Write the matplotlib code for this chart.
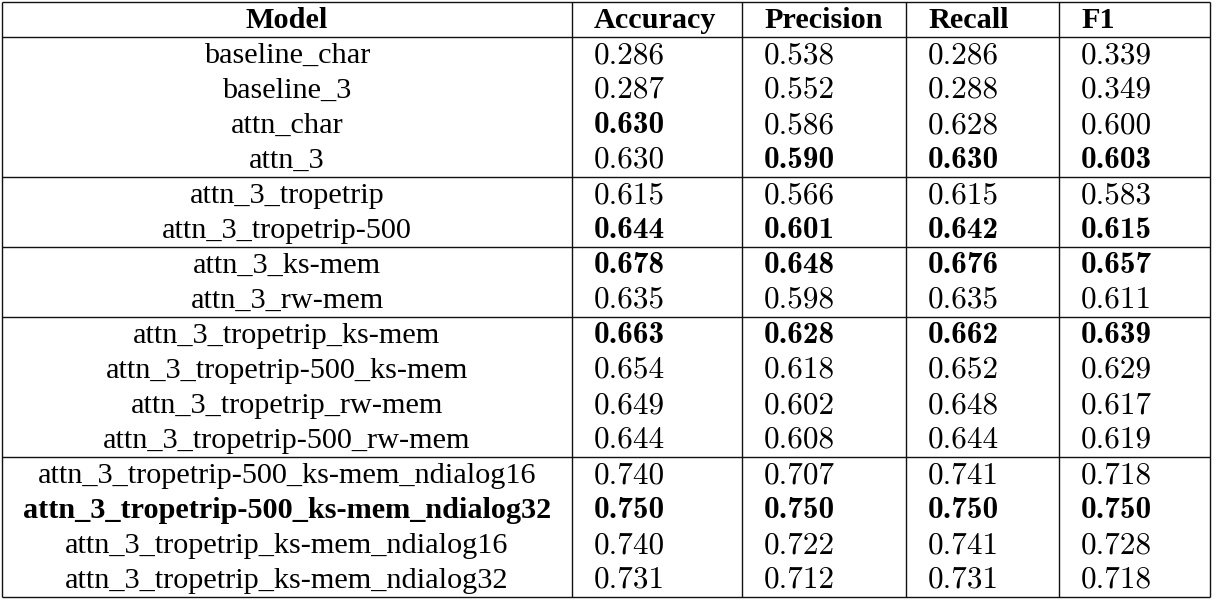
import os
import matplotlib
matplotlib.use("Agg")
import matplotlib.pyplot as plt
from matplotlib.font_manager import FontProperties

plt.rcParams['font.family'] = ['Liberation Serif', 'DejaVu Serif']

headers = ["Model", "Accuracy", "Precision", "Recall", "F1"]
models = [
    "baseline_char", "baseline_3", "attn_char", "attn_3",
    "attn_3_tropetrip", "attn_3_tropetrip-500",
    "attn_3_ks-mem", "attn_3_rw-mem",
    "attn_3_tropetrip_ks-mem", "attn_3_tropetrip-500_ks-mem",
    "attn_3_tropetrip_rw-mem", "attn_3_tropetrip-500_rw-mem",
    "attn_3_tropetrip-500_ks-mem_ndialog16", "attn_3_tropetrip-500_ks-mem_ndialog32",
    "attn_3_tropetrip_ks-mem_ndialog16", "attn_3_tropetrip_ks-mem_ndialog32",
]
accuracy = ["0.286", "0.287", "0.630", "0.630", "0.615", "0.644", "0.678", "0.635",
            "0.663", "0.654", "0.649", "0.644", "0.740", "0.750", "0.740", "0.731"]
precision = ["0.538", "0.552", "0.586", "0.590", "0.566", "0.601", "0.648", "0.598",
             "0.628", "0.618", "0.602", "0.608", "0.707", "0.750", "0.722", "0.712"]
recall = ["0.286", "0.288", "0.628", "0.630", "0.615", "0.642", "0.676", "0.635",
          "0.662", "0.652", "0.648", "0.644", "0.741", "0.750", "0.741", "0.731"]
f1 = ["0.339", "0.349", "0.600", "0.603", "0.583", "0.615", "0.657", "0.611",
      "0.639", "0.629", "0.617", "0.619", "0.718", "0.750", "0.728", "0.718"]
# bold flags: [model, accuracy, precision, recall, f1]
bold = [
    [0, 0, 0, 0, 0], [0, 0, 0, 0, 0], [0, 1, 0, 0, 0], [0, 0, 1, 1, 1],
    [0, 0, 0, 0, 0], [0, 1, 1, 1, 1],
    [0, 1, 1, 1, 1], [0, 0, 0, 0, 0],
    [0, 1, 1, 1, 1], [0, 0, 0, 0, 0], [0, 0, 0, 0, 0], [0, 0, 0, 0, 0],
    [0, 0, 0, 0, 0], [1, 1, 1, 1, 1], [0, 0, 0, 0, 0], [0, 0, 0, 0, 0],
]
group_ends = [3, 5, 7, 11]  # rule after these row indices

ttf_dir = os.path.join(matplotlib.get_data_path(), 'fonts', 'ttf')
fs_text = 21.8
fs_num = 22.5
fp_num = FontProperties(fname=os.path.join(ttf_dir, 'cmr10.ttf'), size=fs_num)
fp_numb = FontProperties(fname=os.path.join(ttf_dir, 'cmb10.ttf'), size=fs_num)

W, H = 1217, 600
fig = plt.figure(figsize=(W / 100, H / 100), dpi=100)
ax = fig.add_axes([0, 0, 1, 1])
ax.set_xlim(0, W)
ax.set_ylim(H, 0)
ax.axis('off')

col_x = [2, 572, 742, 906, 1059, 1210]
top = 2.0
row_h = 35.0
n_rows = len(models) + 1
bottom = top + n_rows * row_h
lc = '#111111'
lw = 1.0

for x in col_x:
    ax.plot([x, x], [top, bottom], color=lc, lw=lw, solid_capstyle='butt')
hys = [top, top + row_h, bottom] + [top + row_h * (g + 2) for g in group_ends]
for y in hys:
    ax.plot([col_x[0], col_x[-1]], [y, y], color=lc, lw=lw, solid_capstyle='butt')

pad = 22
base_off = 26

yb = top + base_off
ax.text((col_x[0] + col_x[1]) / 2, yb, headers[0], ha='center', va='baseline',
        fontsize=fs_text, fontweight='bold', color='black')
for j in range(1, 5):
    ax.text(col_x[j] + pad, yb, headers[j], ha='left', va='baseline',
            fontsize=fs_text, fontweight='bold', color='black')

cols = [accuracy, precision, recall, f1]
for i, m in enumerate(models):
    yb = top + row_h * (i + 1) + base_off
    ax.text((col_x[0] + col_x[1]) / 2, yb, m, ha='center', va='baseline',
            fontsize=fs_text, fontweight='bold' if bold[i][0] else 'normal', color='black')
    for j, col in enumerate(cols):
        ax.text(col_x[j + 1] + pad, yb, col[i], ha='left', va='baseline',
                fontproperties=fp_numb if bold[i][j + 1] else fp_num, color='black')

fig.savefig('out.png', dpi=100)
